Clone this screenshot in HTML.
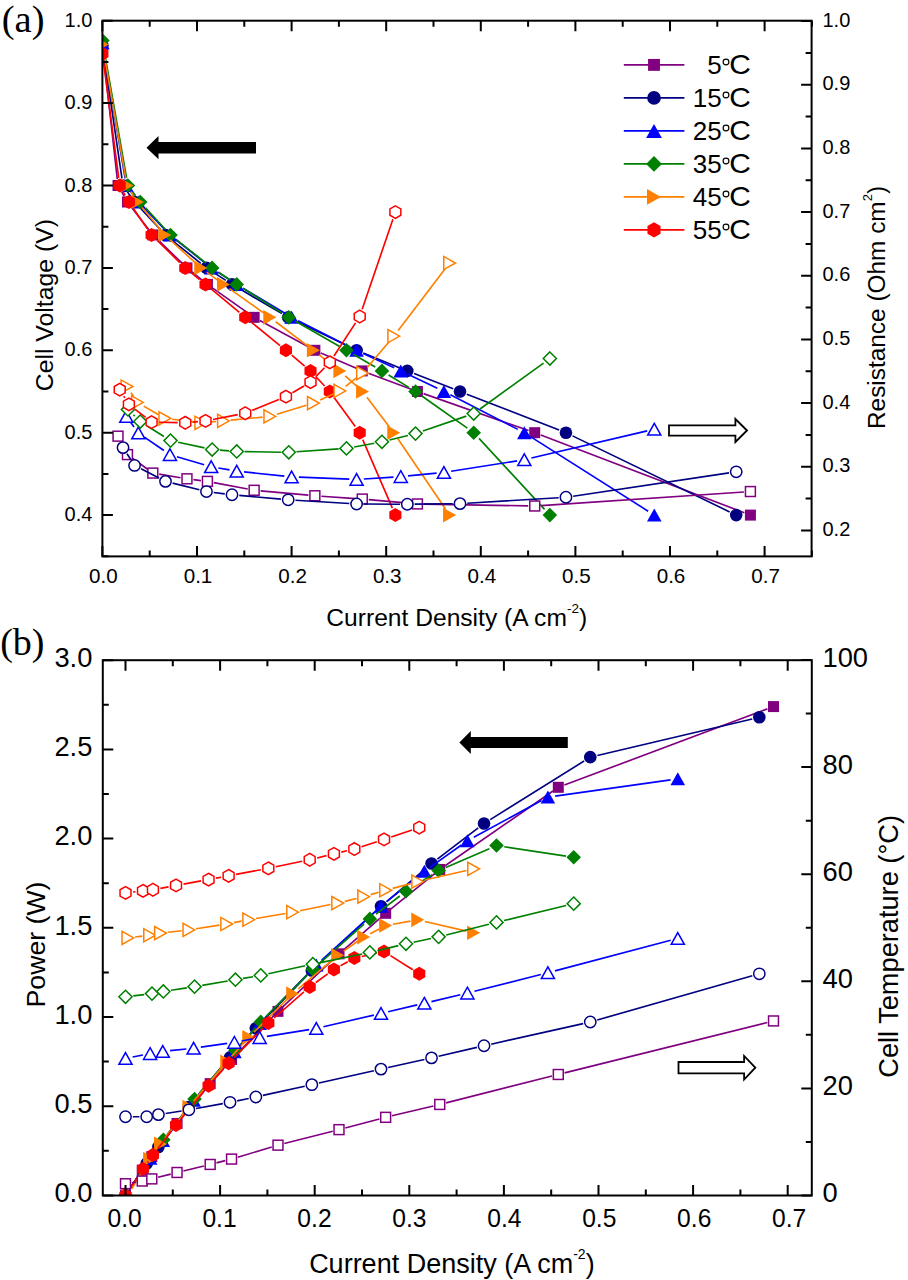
<!DOCTYPE html>
<html><head><meta charset="utf-8"><style>
html,body{margin:0;padding:0;background:#fff;}
svg{display:block;}
text{font-family:"Liberation Sans", sans-serif;fill:#000;}
</style></head><body>
<svg width="908" height="1280" viewBox="0 0 908 1280">
<rect width="908" height="1280" fill="#fff"/>
<clipPath id="ca"><rect x="102.4" y="20.7" width="709.2" height="535.6999999999999"/></clipPath>
<clipPath id="cb"><rect x="102.8" y="660.2" width="709.0" height="535.3"/></clipPath>
<g clip-path="url(#ca)">
<path d="M103.12,51.88L117.29,179.04M121.24,191.14L124.23,196.34M131.43,207.13L148.86,229.79M157.50,239.45L182.30,263.39M192.03,271.98L202.35,280.30M212.72,288.13L248.83,313.59M259.85,320.44L309.16,347.20M320.83,352.89L356.30,368.31M368.36,373.17L411.33,389.23M423.55,393.65L528.59,430.55M540.79,435.02L744.34,512.78" stroke="#800080" stroke-width="1.65" fill="none"/>
<rect x="96.90" y="39.92" width="11.00" height="11.00" fill="#800080"/>
<rect x="112.51" y="180.00" width="11.00" height="11.00" fill="#800080"/>
<rect x="121.97" y="196.48" width="11.00" height="11.00" fill="#800080"/>
<rect x="147.32" y="229.44" width="11.00" height="11.00" fill="#800080"/>
<rect x="181.47" y="262.40" width="11.00" height="11.00" fill="#800080"/>
<rect x="201.91" y="278.88" width="11.00" height="11.00" fill="#800080"/>
<rect x="248.64" y="311.84" width="11.00" height="11.00" fill="#800080"/>
<rect x="309.37" y="344.80" width="11.00" height="11.00" fill="#800080"/>
<rect x="356.77" y="365.40" width="11.00" height="11.00" fill="#800080"/>
<rect x="411.92" y="386.00" width="11.00" height="11.00" fill="#800080"/>
<rect x="529.22" y="427.20" width="11.00" height="11.00" fill="#800080"/>
<rect x="744.91" y="509.60" width="11.00" height="11.00" fill="#800080"/>
<path d="M103.46,52.64L121.96,178.28M127.21,191.48L130.38,196.00M139.56,207.30L160.50,229.62M171.19,239.52L200.77,263.32M212.59,271.86L225.87,280.42M238.30,288.07L281.90,313.65M294.77,320.51L350.01,347.13M363.35,353.05L400.53,368.15M414.09,373.56L453.19,388.84M466.79,394.15L559.14,430.05M572.51,435.88L729.65,511.92" stroke="#000080" stroke-width="1.65" fill="none"/>
<circle cx="102.40" cy="45.42" r="6.30" fill="#000080"/>
<circle cx="123.02" cy="185.50" r="6.30" fill="#000080"/>
<circle cx="134.56" cy="201.98" r="6.30" fill="#000080"/>
<circle cx="165.50" cy="234.94" r="6.30" fill="#000080"/>
<circle cx="206.46" cy="267.90" r="6.30" fill="#000080"/>
<circle cx="232.00" cy="284.38" r="6.30" fill="#000080"/>
<circle cx="288.19" cy="317.34" r="6.30" fill="#000080"/>
<circle cx="356.59" cy="350.30" r="6.30" fill="#000080"/>
<circle cx="407.30" cy="370.90" r="6.30" fill="#000080"/>
<circle cx="459.99" cy="391.50" r="6.30" fill="#000080"/>
<circle cx="565.94" cy="432.70" r="6.30" fill="#000080"/>
<circle cx="736.22" cy="515.10" r="6.30" fill="#000080"/>
<path d="M103.61,50.15L125.13,178.30M130.63,191.40L134.05,196.08M143.40,207.25L164.89,229.67M175.65,239.50L205.49,263.34M217.32,271.86L230.60,280.42M242.99,288.14L285.34,313.58M298.11,320.64L350.08,347.00M363.21,353.39L394.15,367.81M407.36,374.05L437.32,388.35M450.40,394.83L517.82,429.37M530.48,436.61L648.13,511.19" stroke="#0000FF" stroke-width="1.65" fill="none"/>
<polygon points="102.40,36.45 109.70,49.45 95.10,49.45" fill="#0000FF"/>
<polygon points="126.33,179.00 133.63,192.00 119.03,192.00" fill="#0000FF"/>
<polygon points="138.35,195.48 145.65,208.48 131.05,208.48" fill="#0000FF"/>
<polygon points="169.94,228.44 177.24,241.44 162.64,241.44" fill="#0000FF"/>
<polygon points="211.19,261.40 218.49,274.40 203.89,274.40" fill="#0000FF"/>
<polygon points="236.73,277.88 244.03,290.88 229.43,290.88" fill="#0000FF"/>
<polygon points="291.60,310.84 298.90,323.84 284.30,323.84" fill="#0000FF"/>
<polygon points="356.59,343.80 363.89,356.80 349.29,356.80" fill="#0000FF"/>
<polygon points="400.77,364.40 408.07,377.40 393.47,377.40" fill="#0000FF"/>
<polygon points="443.91,385.00 451.21,398.00 436.61,398.00" fill="#0000FF"/>
<polygon points="524.32,426.20 531.62,439.20 517.02,439.20" fill="#0000FF"/>
<polygon points="654.30,508.60 661.60,521.60 647.00,521.60" fill="#0000FF"/>
<path d="M103.75,48.16L126.59,177.82M132.61,191.75L135.58,195.73M145.52,207.72L165.24,229.20M176.63,239.78L206.02,263.06M218.62,272.24L230.25,280.04M243.32,288.55L282.17,313.17M295.54,321.21L339.69,346.43M353.21,354.22L375.20,366.98M388.59,374.98L408.88,387.42M421.89,396.01L467.34,428.19M479.00,438.43L544.56,509.37" stroke="#008000" stroke-width="1.65" fill="none"/>
<polygon points="102.40,33.18 109.70,40.48 102.40,47.78 95.10,40.48" fill="#008000"/>
<polygon points="127.94,178.20 135.24,185.50 127.94,192.80 120.64,185.50" fill="#008000"/>
<polygon points="140.24,194.68 147.54,201.98 140.24,209.28 132.94,201.98" fill="#008000"/>
<polygon points="170.51,227.64 177.81,234.94 170.51,242.24 163.21,234.94" fill="#008000"/>
<polygon points="212.14,260.60 219.44,267.90 212.14,275.20 204.84,267.90" fill="#008000"/>
<polygon points="236.73,277.08 244.03,284.38 236.73,291.68 229.43,284.38" fill="#008000"/>
<polygon points="288.76,310.04 296.06,317.34 288.76,324.64 281.46,317.34" fill="#008000"/>
<polygon points="346.47,343.00 353.77,350.30 346.47,357.60 339.17,350.30" fill="#008000"/>
<polygon points="381.94,363.60 389.24,370.90 381.94,378.20 374.64,370.90" fill="#008000"/>
<polygon points="415.53,384.20 422.83,391.50 415.53,398.80 408.23,391.50" fill="#008000"/>
<polygon points="473.71,425.40 481.01,432.70 473.71,440.00 466.41,432.70" fill="#008000"/>
<polygon points="549.86,507.80 557.16,515.10 549.86,522.40 542.56,515.10" fill="#008000"/>
<path d="M103.66,51.79L125.74,178.31M130.89,191.67L133.50,195.81M142.07,207.59L160.17,229.33M170.22,239.87L195.40,262.97M206.69,272.19L217.58,280.09M229.44,288.61L263.89,313.11M275.66,321.75L307.54,345.89M319.12,354.78L334.08,366.42M345.25,375.81L357.14,386.59M366.96,397.32L389.36,426.88M397.86,438.74L445.49,509.06" stroke="#FF8000" stroke-width="1.65" fill="none"/>
<polygon points="108.90,44.60 95.90,51.90 95.90,37.30" fill="#FF8000"/>
<polygon points="133.50,185.50 120.50,192.80 120.50,178.20" fill="#FF8000"/>
<polygon points="143.90,201.98 130.90,209.28 130.90,194.68" fill="#FF8000"/>
<polygon points="171.34,234.94 158.34,242.24 158.34,227.64" fill="#FF8000"/>
<polygon points="207.28,267.90 194.28,275.20 194.28,260.60" fill="#FF8000"/>
<polygon points="229.99,284.38 216.99,291.68 216.99,277.08" fill="#FF8000"/>
<polygon points="276.34,317.34 263.34,324.64 263.34,310.04" fill="#FF8000"/>
<polygon points="319.86,350.30 306.86,357.60 306.86,343.00" fill="#FF8000"/>
<polygon points="346.35,370.90 333.35,378.20 333.35,363.60" fill="#FF8000"/>
<polygon points="369.05,391.50 356.05,398.80 356.05,384.20" fill="#FF8000"/>
<polygon points="400.27,432.70 387.27,440.00 387.27,425.40" fill="#FF8000"/>
<polygon points="456.08,515.10 443.08,522.40 443.08,507.80" fill="#FF8000"/>
<path d="M103.39,61.20L118.72,177.96M123.41,192.14L125.19,195.34M133.20,208.24L147.28,228.68M157.02,240.26L179.84,262.58M191.16,272.70L199.62,279.58M211.36,289.23L239.40,312.49M251.15,322.12L280.02,345.52M291.75,355.18L304.69,366.02M315.72,376.45L324.62,385.95M334.28,397.65L355.25,426.55M362.73,439.67L392.36,508.13" stroke="#FF0000" stroke-width="1.65" fill="none"/>
<polygon points="102.40,46.66 108.46,50.16 108.46,57.16 102.40,60.66 96.34,57.16 96.34,50.16" fill="#FF0000"/>
<polygon points="119.71,178.50 125.77,182.00 125.77,189.00 119.71,192.50 113.65,189.00 113.65,182.00" fill="#FF0000"/>
<polygon points="128.89,194.98 134.95,198.48 134.95,205.48 128.89,208.98 122.83,205.48 122.83,198.48" fill="#FF0000"/>
<polygon points="151.59,227.94 157.65,231.44 157.65,238.44 151.59,241.94 145.53,238.44 145.53,231.44" fill="#FF0000"/>
<polygon points="185.27,260.90 191.33,264.40 191.33,271.40 185.27,274.90 179.21,271.40 179.21,264.40" fill="#FF0000"/>
<polygon points="205.51,277.38 211.58,280.88 211.58,287.88 205.51,291.38 199.45,287.88 199.45,280.88" fill="#FF0000"/>
<polygon points="245.25,310.34 251.31,313.84 251.31,320.84 245.25,324.34 239.18,320.84 239.18,313.84" fill="#FF0000"/>
<polygon points="285.92,343.30 291.99,346.80 291.99,353.80 285.92,357.30 279.86,353.80 279.86,346.80" fill="#FF0000"/>
<polygon points="310.52,363.90 316.58,367.40 316.58,374.40 310.52,377.90 304.46,374.40 304.46,367.40" fill="#FF0000"/>
<polygon points="329.82,384.50 335.88,388.00 335.88,395.00 329.82,398.50 323.76,395.00 323.76,388.00" fill="#FF0000"/>
<polygon points="359.71,425.70 365.77,429.20 365.77,436.20 359.71,439.70 353.65,436.20 353.65,429.20" fill="#FF0000"/>
<polygon points="395.38,508.10 401.44,511.60 401.44,518.60 395.38,522.10 389.31,518.60 389.31,511.60" fill="#FF0000"/>
</g>
<g clip-path="url(#ca)">
<path d="M120.97,441.95L124.50,448.84M132.72,458.45L147.57,469.26M159.23,474.16L180.56,477.74M193.42,479.62L200.96,480.56M213.79,482.58L247.75,489.06M260.61,490.86L308.40,495.17M321.36,496.20L355.78,498.61M368.74,499.63L410.94,503.39M423.92,504.07L528.22,505.89M541.21,505.56L743.92,491.98" stroke="#800080" stroke-width="1.65" fill="none"/>
<rect x="113.06" y="431.21" width="9.90" height="9.90" fill="#fff" stroke="#800080" stroke-width="1.5"/>
<rect x="122.52" y="449.67" width="9.90" height="9.90" fill="#fff" stroke="#800080" stroke-width="1.5"/>
<rect x="147.87" y="468.14" width="9.90" height="9.90" fill="#fff" stroke="#800080" stroke-width="1.5"/>
<rect x="182.02" y="473.87" width="9.90" height="9.90" fill="#fff" stroke="#800080" stroke-width="1.5"/>
<rect x="202.46" y="476.41" width="9.90" height="9.90" fill="#fff" stroke="#800080" stroke-width="1.5"/>
<rect x="249.19" y="485.32" width="9.90" height="9.90" fill="#fff" stroke="#800080" stroke-width="1.5"/>
<rect x="309.92" y="490.80" width="9.90" height="9.90" fill="#fff" stroke="#800080" stroke-width="1.5"/>
<rect x="357.32" y="494.11" width="9.90" height="9.90" fill="#fff" stroke="#800080" stroke-width="1.5"/>
<rect x="412.47" y="499.01" width="9.90" height="9.90" fill="#fff" stroke="#800080" stroke-width="1.5"/>
<rect x="529.77" y="501.05" width="9.90" height="9.90" fill="#fff" stroke="#800080" stroke-width="1.5"/>
<rect x="745.46" y="486.60" width="9.90" height="9.90" fill="#fff" stroke="#800080" stroke-width="1.5"/>
<path d="M126.99,453.75L130.60,459.32M141.06,468.79L159.01,478.02M172.58,483.12L199.38,489.79M213.70,492.45L224.76,493.83M239.27,495.39L280.92,499.16M295.48,500.26L349.30,503.52M363.89,504.01L400.00,504.23M414.60,504.19L452.69,503.73M467.27,503.20L558.65,497.71M573.16,496.20L729.00,472.89" stroke="#000080" stroke-width="1.65" fill="none"/>
<circle cx="123.02" cy="447.62" r="5.67" fill="#fff" stroke="#000080" stroke-width="1.5"/>
<circle cx="134.56" cy="465.45" r="5.67" fill="#fff" stroke="#000080" stroke-width="1.5"/>
<circle cx="165.50" cy="481.36" r="5.67" fill="#fff" stroke="#000080" stroke-width="1.5"/>
<circle cx="206.46" cy="491.55" r="5.67" fill="#fff" stroke="#000080" stroke-width="1.5"/>
<circle cx="232.00" cy="494.73" r="5.67" fill="#fff" stroke="#000080" stroke-width="1.5"/>
<circle cx="288.19" cy="499.82" r="5.67" fill="#fff" stroke="#000080" stroke-width="1.5"/>
<circle cx="356.59" cy="503.96" r="5.67" fill="#fff" stroke="#000080" stroke-width="1.5"/>
<circle cx="407.30" cy="504.28" r="5.67" fill="#fff" stroke="#000080" stroke-width="1.5"/>
<circle cx="459.99" cy="503.64" r="5.67" fill="#fff" stroke="#000080" stroke-width="1.5"/>
<circle cx="565.94" cy="497.28" r="5.67" fill="#fff" stroke="#000080" stroke-width="1.5"/>
<circle cx="736.22" cy="471.81" r="5.67" fill="#fff" stroke="#000080" stroke-width="1.5"/>
<path d="M130.62,422.34L134.06,427.07M144.37,437.11L163.92,450.50M176.95,456.68L204.18,464.67M218.38,467.97L229.54,469.92M243.99,471.93L284.34,476.15M298.89,477.19L349.30,479.17M363.87,478.98L393.48,477.06M408.04,475.89L436.64,473.15M451.12,471.31L517.11,460.86M531.42,458.05L647.19,430.83" stroke="#0000FF" stroke-width="1.65" fill="none"/>
<polygon points="126.33,410.58 132.90,422.28 119.76,422.28" fill="#fff" stroke="#0000FF" stroke-width="1.5"/>
<polygon points="138.35,427.13 144.92,438.83 131.78,438.83" fill="#fff" stroke="#0000FF" stroke-width="1.5"/>
<polygon points="169.94,448.77 176.51,460.47 163.37,460.47" fill="#fff" stroke="#0000FF" stroke-width="1.5"/>
<polygon points="211.19,460.87 217.76,472.57 204.62,472.57" fill="#fff" stroke="#0000FF" stroke-width="1.5"/>
<polygon points="236.73,465.33 243.30,477.03 230.16,477.03" fill="#fff" stroke="#0000FF" stroke-width="1.5"/>
<polygon points="291.60,471.06 298.17,482.76 285.03,482.76" fill="#fff" stroke="#0000FF" stroke-width="1.5"/>
<polygon points="356.59,473.60 363.16,485.30 350.02,485.30" fill="#fff" stroke="#0000FF" stroke-width="1.5"/>
<polygon points="400.77,470.74 407.34,482.44 394.20,482.44" fill="#fff" stroke="#0000FF" stroke-width="1.5"/>
<polygon points="443.91,466.60 450.48,478.30 437.34,478.30" fill="#fff" stroke="#0000FF" stroke-width="1.5"/>
<polygon points="524.32,453.87 530.89,465.57 517.75,465.57" fill="#fff" stroke="#0000FF" stroke-width="1.5"/>
<polygon points="654.30,423.31 660.87,435.01 647.73,435.01" fill="#fff" stroke="#0000FF" stroke-width="1.5"/>
<path d="M133.50,414.90L134.68,416.05M146.84,425.68L163.92,436.46M178.14,442.25L204.51,447.90M219.91,450.14L228.96,450.84M244.53,451.58L280.96,452.20M296.54,451.80L338.69,448.92M354.14,446.95L374.28,443.20M389.52,439.93L407.95,435.46M422.90,431.08L466.33,416.11M480.03,408.99L543.54,363.07" stroke="#008000" stroke-width="1.65" fill="none"/>
<polygon points="127.94,402.86 134.51,409.43 127.94,416.00 121.37,409.43" fill="#fff" stroke="#008000" stroke-width="1.5"/>
<polygon points="140.24,414.95 146.81,421.52 140.24,428.09 133.67,421.52" fill="#fff" stroke="#008000" stroke-width="1.5"/>
<polygon points="170.51,434.05 177.08,440.62 170.51,447.19 163.94,440.62" fill="#fff" stroke="#008000" stroke-width="1.5"/>
<polygon points="212.14,442.96 218.71,449.53 212.14,456.10 205.57,449.53" fill="#fff" stroke="#008000" stroke-width="1.5"/>
<polygon points="236.73,444.87 243.30,451.44 236.73,458.01 230.16,451.44" fill="#fff" stroke="#008000" stroke-width="1.5"/>
<polygon points="288.76,445.76 295.33,452.33 288.76,458.90 282.19,452.33" fill="#fff" stroke="#008000" stroke-width="1.5"/>
<polygon points="346.47,441.82 353.04,448.39 346.47,454.96 339.90,448.39" fill="#fff" stroke="#008000" stroke-width="1.5"/>
<polygon points="381.94,435.20 388.51,441.77 381.94,448.34 375.37,441.77" fill="#fff" stroke="#008000" stroke-width="1.5"/>
<polygon points="415.53,427.05 422.10,433.62 415.53,440.19 408.96,433.62" fill="#fff" stroke="#008000" stroke-width="1.5"/>
<polygon points="473.71,406.99 480.28,413.56 473.71,420.13 467.14,413.56" fill="#fff" stroke="#008000" stroke-width="1.5"/>
<polygon points="549.86,351.93 556.43,358.50 549.86,365.07 543.29,358.50" fill="#fff" stroke="#008000" stroke-width="1.5"/>
<path d="M130.99,392.62L133.41,396.31M143.72,406.09L158.52,414.68M172.08,419.24L193.54,421.90M208.06,422.18L216.21,421.50M230.75,420.19L262.58,417.13M276.82,414.28L306.38,405.20M320.00,400.03L333.21,394.00M345.59,386.46L356.81,377.65M367.26,367.57L389.05,341.79M398.19,330.41L445.16,268.81" stroke="#FF8000" stroke-width="1.65" fill="none"/>
<polygon points="132.85,386.51 121.15,393.08 121.15,379.94" fill="#fff" stroke="#FF8000" stroke-width="1.5"/>
<polygon points="143.25,402.42 131.55,408.99 131.55,395.85" fill="#fff" stroke="#FF8000" stroke-width="1.5"/>
<polygon points="170.69,418.34 158.99,424.91 158.99,411.77" fill="#fff" stroke="#FF8000" stroke-width="1.5"/>
<polygon points="206.63,422.79 194.93,429.36 194.93,416.22" fill="#fff" stroke="#FF8000" stroke-width="1.5"/>
<polygon points="229.34,420.88 217.64,427.45 217.64,414.31" fill="#fff" stroke="#FF8000" stroke-width="1.5"/>
<polygon points="275.69,416.43 263.99,423.00 263.99,409.86" fill="#fff" stroke="#FF8000" stroke-width="1.5"/>
<polygon points="319.21,403.06 307.51,409.63 307.51,396.49" fill="#fff" stroke="#FF8000" stroke-width="1.5"/>
<polygon points="345.70,390.96 334.00,397.53 334.00,384.39" fill="#fff" stroke="#FF8000" stroke-width="1.5"/>
<polygon points="368.40,373.14 356.70,379.71 356.70,366.57" fill="#fff" stroke="#FF8000" stroke-width="1.5"/>
<polygon points="399.62,336.22 387.92,342.79 387.92,329.65" fill="#fff" stroke="#FF8000" stroke-width="1.5"/>
<polygon points="455.43,263.01 443.73,269.58 443.73,256.44" fill="#fff" stroke="#FF8000" stroke-width="1.5"/>
<path d="M123.75,396.13L124.85,397.89M134.87,409.03L145.61,417.46M159.19,422.30L177.67,422.65M192.84,422.08L197.95,421.60M212.98,419.45L237.78,414.68M252.29,410.38L278.88,399.56M292.45,392.81L303.99,385.94M315.83,376.62L324.50,367.75M333.97,355.95L355.56,322.85M362.17,309.29L392.92,219.27" stroke="#FF0000" stroke-width="1.65" fill="none"/>
<polygon points="119.71,383.39 125.17,386.54 125.17,392.84 119.71,395.99 114.26,392.84 114.26,386.54" fill="#fff" stroke="#FF0000" stroke-width="1.5"/>
<polygon points="128.89,398.03 134.34,401.18 134.34,407.48 128.89,410.63 123.43,407.48 123.43,401.18" fill="#fff" stroke="#FF0000" stroke-width="1.5"/>
<polygon points="151.59,415.86 157.05,419.01 157.05,425.31 151.59,428.46 146.14,425.31 146.14,419.01" fill="#fff" stroke="#FF0000" stroke-width="1.5"/>
<polygon points="185.27,416.49 190.73,419.64 190.73,425.94 185.27,429.09 179.81,425.94 179.81,419.64" fill="#fff" stroke="#FF0000" stroke-width="1.5"/>
<polygon points="205.51,414.58 210.97,417.73 210.97,424.03 205.51,427.18 200.06,424.03 200.06,417.73" fill="#fff" stroke="#FF0000" stroke-width="1.5"/>
<polygon points="245.25,406.95 250.70,410.10 250.70,416.40 245.25,419.55 239.79,416.40 239.79,410.10" fill="#fff" stroke="#FF0000" stroke-width="1.5"/>
<polygon points="285.92,390.39 291.38,393.54 291.38,399.84 285.92,402.99 280.47,399.84 280.47,393.54" fill="#fff" stroke="#FF0000" stroke-width="1.5"/>
<polygon points="310.52,375.75 315.98,378.90 315.98,385.20 310.52,388.35 305.06,385.20 305.06,378.90" fill="#fff" stroke="#FF0000" stroke-width="1.5"/>
<polygon points="329.82,356.02 335.27,359.17 335.27,365.47 329.82,368.62 324.36,365.47 324.36,359.17" fill="#fff" stroke="#FF0000" stroke-width="1.5"/>
<polygon points="359.71,310.18 365.17,313.33 365.17,319.63 359.71,322.78 354.26,319.63 354.26,313.33" fill="#fff" stroke="#FF0000" stroke-width="1.5"/>
<polygon points="395.38,205.78 400.83,208.93 400.83,215.23 395.38,218.38 389.92,215.23 389.92,208.93" fill="#fff" stroke="#FF0000" stroke-width="1.5"/>
</g>
<path d="M102.40,556.4V545.9M197.00,556.4V545.9M291.60,556.4V545.9M386.20,556.4V545.9M480.80,556.4V545.9M575.40,556.4V545.9M670.00,556.4V545.9M764.60,556.4V545.9M149.70,556.4V550.4M244.30,556.4V550.4M338.90,556.4V550.4M433.50,556.4V550.4M528.10,556.4V550.4M622.70,556.4V550.4M717.30,556.4V550.4M811.90,556.4V550.4M102.40,20.7V31.2M197.00,20.7V31.2M291.60,20.7V31.2M386.20,20.7V31.2M480.80,20.7V31.2M575.40,20.7V31.2M670.00,20.7V31.2M764.60,20.7V31.2M149.70,20.7V26.7M244.30,20.7V26.7M338.90,20.7V26.7M433.50,20.7V26.7M528.10,20.7V26.7M622.70,20.7V26.7M717.30,20.7V26.7M811.90,20.7V26.7M102.4,515.10H112.9M102.4,432.70H112.9M102.4,350.30H112.9M102.4,267.90H112.9M102.4,185.50H112.9M102.4,103.10H112.9M102.4,20.70H112.9M102.4,556.30H108.4M102.4,473.90H108.4M102.4,391.50H108.4M102.4,309.10H108.4M102.4,226.70H108.4M102.4,144.30H108.4M102.4,61.90H108.4M811.6,530.38H801.1M811.6,466.72H801.1M811.6,403.06H801.1M811.6,339.40H801.1M811.6,275.74H801.1M811.6,212.08H801.1M811.6,148.42H801.1M811.6,84.76H801.1M811.6,21.10H801.1M811.6,498.55H805.6M811.6,434.89H805.6M811.6,371.23H805.6M811.6,307.57H805.6M811.6,243.91H805.6M811.6,180.25H805.6M811.6,116.59H805.6M811.6,52.93H805.6" stroke="#000" stroke-width="2" fill="none"/>
<rect x="102.4" y="20.7" width="709.20" height="535.70" stroke="#000" stroke-width="2" fill="none"/>
<g clip-path="url(#cb)">
<path d="M129.09,1189.98L138.65,1175.56M146.01,1164.84L148.03,1162.01M155.73,1151.54L173.13,1128.63M181.21,1118.45L206.01,1088.63M214.47,1078.76L227.25,1064.28M236.06,1054.74L273.48,1016.02M282.72,1006.89L334.28,958.27M343.92,949.55L380.74,917.57M390.70,909.21L434.71,873.54M445.10,865.74L552.95,791.01M564.38,785.03L767.42,708.87" stroke="#800080" stroke-width="1.65" fill="none"/>
<rect x="120.00" y="1189.90" width="11.00" height="11.00" fill="#800080"/>
<rect x="136.74" y="1164.64" width="11.00" height="11.00" fill="#800080"/>
<rect x="146.30" y="1151.22" width="11.00" height="11.00" fill="#800080"/>
<rect x="171.56" y="1117.95" width="11.00" height="11.00" fill="#800080"/>
<rect x="204.67" y="1078.13" width="11.00" height="11.00" fill="#800080"/>
<rect x="226.05" y="1053.91" width="11.00" height="11.00" fill="#800080"/>
<rect x="272.50" y="1005.85" width="11.00" height="11.00" fill="#800080"/>
<rect x="333.51" y="948.31" width="11.00" height="11.00" fill="#800080"/>
<rect x="380.15" y="907.81" width="11.00" height="11.00" fill="#800080"/>
<rect x="434.26" y="863.95" width="11.00" height="11.00" fill="#800080"/>
<rect x="552.80" y="781.81" width="11.00" height="11.00" fill="#800080"/>
<rect x="768.01" y="701.08" width="11.00" height="11.00" fill="#800080"/>
<path d="M129.53,1189.32L142.66,1169.52M150.93,1157.49L154.18,1152.92M162.84,1141.17L184.46,1112.76M193.55,1101.33L225.37,1063.02M234.87,1051.94L251.02,1033.70M260.94,1022.99L306.78,975.71M317.21,965.51L375.66,911.25M386.59,901.57L425.96,868.27M437.34,859.13L478.23,827.95M490.23,819.66L584.08,761.03M597.37,755.48L752.21,718.96" stroke="#000080" stroke-width="1.65" fill="none"/>
<circle cx="125.50" cy="1195.40" r="6.30" fill="#000080"/>
<circle cx="146.69" cy="1163.43" r="6.30" fill="#000080"/>
<circle cx="158.42" cy="1146.98" r="6.30" fill="#000080"/>
<circle cx="188.88" cy="1106.95" r="6.30" fill="#000080"/>
<circle cx="230.03" cy="1057.41" r="6.30" fill="#000080"/>
<circle cx="255.86" cy="1028.23" r="6.30" fill="#000080"/>
<circle cx="311.86" cy="970.47" r="6.30" fill="#000080"/>
<circle cx="381.01" cy="906.28" r="6.30" fill="#000080"/>
<circle cx="431.53" cy="863.55" r="6.30" fill="#000080"/>
<circle cx="484.03" cy="823.53" r="6.30" fill="#000080"/>
<circle cx="590.27" cy="757.16" r="6.30" fill="#000080"/>
<circle cx="759.32" cy="717.29" r="6.30" fill="#000080"/>
<path d="M129.53,1189.32L146.06,1164.38M154.34,1152.36L158.52,1146.51M167.21,1134.78L189.17,1106.14M198.30,1094.75L229.70,1057.26M239.25,1046.22L254.78,1028.82M264.73,1018.15L311.22,970.34M321.71,960.20L375.61,911.20M386.70,901.70L418.66,875.93M430.29,867.12L461.43,845.02M473.80,837.31L541.47,800.60M555.12,796.10L670.55,779.82" stroke="#0000FF" stroke-width="1.65" fill="none"/>
<polygon points="125.50,1188.90 132.80,1201.90 118.20,1201.90" fill="#0000FF"/>
<polygon points="150.10,1151.79 157.40,1164.79 142.80,1164.79" fill="#0000FF"/>
<polygon points="162.77,1134.07 170.07,1147.07 155.47,1147.07" fill="#0000FF"/>
<polygon points="193.61,1093.85 200.91,1106.85 186.31,1106.85" fill="#0000FF"/>
<polygon points="234.38,1045.16 241.68,1058.16 227.08,1058.16" fill="#0000FF"/>
<polygon points="259.64,1016.88 266.94,1029.88 252.34,1029.88" fill="#0000FF"/>
<polygon points="316.31,958.61 323.61,971.61 309.01,971.61" fill="#0000FF"/>
<polygon points="381.01,899.78 388.31,912.78 373.71,912.78" fill="#0000FF"/>
<polygon points="424.34,864.85 431.64,877.85 417.04,877.85" fill="#0000FF"/>
<polygon points="467.38,834.29 474.68,847.29 460.08,847.29" fill="#0000FF"/>
<polygon points="547.89,790.62 555.19,803.62 540.59,803.62" fill="#0000FF"/>
<polygon points="677.77,772.30 685.07,785.30 670.47,785.30" fill="#0000FF"/>
<path d="M129.81,1188.90L147.68,1161.94M156.56,1149.12L158.77,1146.06M168.09,1133.55L189.81,1105.22M199.57,1093.05L230.41,1056.27M240.62,1044.47L255.58,1027.74M266.26,1016.38L307.32,974.88M318.65,964.17L364.01,924.08M376.05,914.17L399.80,895.99M412.58,887.08L432.03,874.79M445.78,867.52L489.36,848.66M504.23,846.73L566.00,856.12" stroke="#008000" stroke-width="1.65" fill="none"/>
<polygon points="125.50,1188.10 132.80,1195.40 125.50,1202.70 118.20,1195.40" fill="#008000"/>
<polygon points="151.99,1148.14 159.29,1155.44 151.99,1162.74 144.69,1155.44" fill="#008000"/>
<polygon points="163.34,1132.44 170.64,1139.74 163.34,1147.04 156.04,1139.74" fill="#008000"/>
<polygon points="194.56,1091.73 201.86,1099.03 194.56,1106.33 187.26,1099.03" fill="#008000"/>
<polygon points="235.43,1042.99 242.73,1050.29 235.43,1057.59 228.13,1050.29" fill="#008000"/>
<polygon points="260.78,1014.62 268.08,1021.92 260.78,1029.22 253.48,1021.92" fill="#008000"/>
<polygon points="312.81,962.03 320.11,969.33 312.81,976.63 305.51,969.33" fill="#008000"/>
<polygon points="369.85,911.62 377.15,918.92 369.85,926.22 362.55,918.92" fill="#008000"/>
<polygon points="405.99,883.95 413.29,891.25 405.99,898.55 398.69,891.25" fill="#008000"/>
<polygon points="438.63,863.32 445.93,870.62 438.63,877.92 431.33,870.62" fill="#008000"/>
<polygon points="496.52,838.26 503.82,845.56 496.52,852.86 489.22,845.56" fill="#008000"/>
<polygon points="573.71,850.00 581.01,857.30 573.71,864.60 566.41,857.30" fill="#008000"/>
<path d="M131.61,1189.13L145.88,1165.27M153.89,1153.08L156.23,1149.84M164.95,1138.12L184.44,1112.74M193.57,1101.35L222.03,1067.37M231.61,1056.36L243.88,1042.75M253.94,1032.18L287.48,998.80M298.22,988.92L332.13,960.04M343.67,951.12L357.72,941.29M370.16,933.71L379.19,928.97M392.84,924.29L410.53,921.14M424.83,921.51L466.52,931.15" stroke="#FF8000" stroke-width="1.65" fill="none"/>
<polygon points="134.37,1195.40 121.36,1202.70 121.36,1188.10" fill="#FF8000"/>
<polygon points="156.12,1159.01 143.12,1166.31 143.12,1151.71" fill="#FF8000"/>
<polygon points="167.00,1143.91 154.00,1151.21 154.00,1136.61" fill="#FF8000"/>
<polygon points="195.38,1106.95 182.38,1114.25 182.38,1099.65" fill="#FF8000"/>
<polygon points="233.22,1061.78 220.22,1069.08 220.22,1054.48" fill="#FF8000"/>
<polygon points="255.26,1037.33 242.26,1044.63 242.26,1030.03" fill="#FF8000"/>
<polygon points="299.16,993.65 286.16,1000.95 286.16,986.35" fill="#FF8000"/>
<polygon points="344.19,955.31 331.19,962.61 331.19,948.01" fill="#FF8000"/>
<polygon points="370.20,937.10 357.20,944.40 357.20,929.80" fill="#FF8000"/>
<polygon points="392.15,925.57 379.15,932.87 379.15,918.27" fill="#FF8000"/>
<polygon points="424.22,919.86 411.22,927.16 411.22,912.56" fill="#FF8000"/>
<polygon points="480.13,932.80 467.13,940.10 467.13,925.50" fill="#FF8000"/>
<path d="M129.70,1189.07L138.80,1175.33M147.41,1162.81L148.53,1161.24M157.55,1149.01L171.40,1130.94M180.87,1119.06L203.70,1091.60M213.61,1080.07L223.57,1068.85M233.96,1057.77L263.00,1028.40M274.08,1018.00L303.95,991.98M315.84,982.53L327.75,973.88M340.55,965.72L347.70,961.74M361.77,956.44L376.61,953.22M390.47,955.67L412.81,969.77" stroke="#FF0000" stroke-width="1.65" fill="none"/>
<polygon points="125.50,1188.40 131.56,1191.90 131.56,1198.90 125.50,1202.40 119.44,1198.90 119.44,1191.90" fill="#FF0000"/>
<polygon points="143.00,1162.00 149.06,1165.50 149.06,1172.50 143.00,1176.00 136.94,1172.50 136.94,1165.50" fill="#FF0000"/>
<polygon points="152.93,1148.05 159.00,1151.55 159.00,1158.55 152.93,1162.05 146.87,1158.55 146.87,1151.55" fill="#FF0000"/>
<polygon points="176.02,1117.90 182.08,1121.40 182.08,1128.40 176.02,1131.90 169.95,1128.40 169.95,1121.40" fill="#FF0000"/>
<polygon points="208.56,1078.76 214.62,1082.26 214.62,1089.26 208.56,1092.76 202.50,1089.26 202.50,1082.26" fill="#FF0000"/>
<polygon points="228.61,1056.17 234.68,1059.67 234.68,1066.67 228.61,1070.17 222.55,1066.67 222.55,1059.67" fill="#FF0000"/>
<polygon points="268.35,1015.99 274.41,1019.49 274.41,1026.49 268.35,1029.99 262.28,1026.49 262.28,1019.49" fill="#FF0000"/>
<polygon points="309.69,979.99 315.75,983.49 315.75,990.49 309.69,993.99 303.62,990.49 303.62,983.49" fill="#FF0000"/>
<polygon points="333.90,962.42 339.97,965.92 339.97,972.92 333.90,976.42 327.84,972.92 327.84,965.92" fill="#FF0000"/>
<polygon points="354.34,951.05 360.40,954.55 360.40,961.55 354.34,965.05 348.28,961.55 348.28,954.55" fill="#FF0000"/>
<polygon points="384.04,944.62 390.10,948.12 390.10,955.12 384.04,958.62 377.98,955.12 377.98,948.12" fill="#FF0000"/>
<polygon points="419.23,966.83 425.30,970.33 425.30,977.33 419.23,980.83 413.17,977.33 413.17,970.33" fill="#FF0000"/>
</g>
<g clip-path="url(#cb)">
<path d="M131.92,1182.69L135.83,1182.07M158.10,1177.30L170.76,1174.08M183.37,1170.94L203.85,1165.97M216.47,1162.86L225.24,1160.67M237.77,1157.22L271.77,1147.03M284.29,1143.56L332.71,1131.24M345.30,1127.97L379.37,1118.98M391.97,1115.81L433.44,1105.97M446.06,1102.87L551.99,1076.07M564.60,1072.91L767.20,1022.50" stroke="#800080" stroke-width="1.65" fill="none"/>
<rect x="120.55" y="1178.77" width="9.90" height="9.90" fill="#fff" stroke="#800080" stroke-width="1.5"/>
<rect x="137.29" y="1176.09" width="9.90" height="9.90" fill="#fff" stroke="#800080" stroke-width="1.5"/>
<rect x="146.85" y="1173.95" width="9.90" height="9.90" fill="#fff" stroke="#800080" stroke-width="1.5"/>
<rect x="172.11" y="1167.52" width="9.90" height="9.90" fill="#fff" stroke="#800080" stroke-width="1.5"/>
<rect x="205.22" y="1159.49" width="9.90" height="9.90" fill="#fff" stroke="#800080" stroke-width="1.5"/>
<rect x="226.60" y="1154.14" width="9.90" height="9.90" fill="#fff" stroke="#800080" stroke-width="1.5"/>
<rect x="273.05" y="1140.21" width="9.90" height="9.90" fill="#fff" stroke="#800080" stroke-width="1.5"/>
<rect x="334.06" y="1124.68" width="9.90" height="9.90" fill="#fff" stroke="#800080" stroke-width="1.5"/>
<rect x="380.70" y="1112.37" width="9.90" height="9.90" fill="#fff" stroke="#800080" stroke-width="1.5"/>
<rect x="434.81" y="1099.51" width="9.90" height="9.90" fill="#fff" stroke="#800080" stroke-width="1.5"/>
<rect x="553.35" y="1069.53" width="9.90" height="9.90" fill="#fff" stroke="#800080" stroke-width="1.5"/>
<rect x="768.56" y="1015.98" width="9.90" height="9.90" fill="#fff" stroke="#800080" stroke-width="1.5"/>
<path d="M132.80,1116.78L139.39,1116.78M165.63,1113.50L181.67,1110.96M196.06,1108.51L222.85,1103.63M237.18,1100.84L248.71,1098.45M262.99,1095.40L304.73,1086.22M318.98,1083.05L373.89,1070.72M388.14,1067.54L424.41,1059.46M438.64,1056.24L476.92,1047.41M491.16,1044.18L583.15,1023.59M597.29,1020.00L752.30,975.80" stroke="#000080" stroke-width="1.65" fill="none"/>
<circle cx="125.50" cy="1116.78" r="5.67" fill="#fff" stroke="#000080" stroke-width="1.5"/>
<circle cx="146.69" cy="1116.78" r="5.67" fill="#fff" stroke="#000080" stroke-width="1.5"/>
<circle cx="158.42" cy="1114.64" r="5.67" fill="#fff" stroke="#000080" stroke-width="1.5"/>
<circle cx="188.88" cy="1109.82" r="5.67" fill="#fff" stroke="#000080" stroke-width="1.5"/>
<circle cx="230.03" cy="1102.32" r="5.67" fill="#fff" stroke="#000080" stroke-width="1.5"/>
<circle cx="255.86" cy="1096.97" r="5.67" fill="#fff" stroke="#000080" stroke-width="1.5"/>
<circle cx="311.86" cy="1084.65" r="5.67" fill="#fff" stroke="#000080" stroke-width="1.5"/>
<circle cx="381.01" cy="1069.12" r="5.67" fill="#fff" stroke="#000080" stroke-width="1.5"/>
<circle cx="431.53" cy="1057.88" r="5.67" fill="#fff" stroke="#000080" stroke-width="1.5"/>
<circle cx="484.03" cy="1045.77" r="5.67" fill="#fff" stroke="#000080" stroke-width="1.5"/>
<circle cx="590.27" cy="1022.00" r="5.67" fill="#fff" stroke="#000080" stroke-width="1.5"/>
<circle cx="759.32" cy="973.80" r="5.67" fill="#fff" stroke="#000080" stroke-width="1.5"/>
<path d="M132.66,1057.01L142.93,1055.00M170.03,1050.69L186.35,1048.99M200.84,1047.19L227.16,1043.39M241.56,1040.98L252.47,1038.90M266.85,1036.37L309.10,1029.58M323.42,1026.78L373.90,1015.08M388.12,1011.76L417.23,1004.92M431.45,1001.58L460.28,994.76M474.46,991.29L540.81,974.52M554.95,970.87L670.72,940.32" stroke="#0000FF" stroke-width="1.65" fill="none"/>
<polygon points="125.50,1052.56 132.07,1064.26 118.93,1064.26" fill="#fff" stroke="#0000FF" stroke-width="1.5"/>
<polygon points="150.10,1047.74 156.67,1059.44 143.53,1059.44" fill="#fff" stroke="#0000FF" stroke-width="1.5"/>
<polygon points="162.77,1045.60 169.34,1057.30 156.20,1057.30" fill="#fff" stroke="#0000FF" stroke-width="1.5"/>
<polygon points="193.61,1042.39 200.18,1054.09 187.04,1054.09" fill="#fff" stroke="#0000FF" stroke-width="1.5"/>
<polygon points="234.38,1036.50 240.95,1048.20 227.81,1048.20" fill="#fff" stroke="#0000FF" stroke-width="1.5"/>
<polygon points="259.64,1031.68 266.21,1043.38 253.07,1043.38" fill="#fff" stroke="#0000FF" stroke-width="1.5"/>
<polygon points="316.31,1022.57 322.88,1034.27 309.74,1034.27" fill="#fff" stroke="#0000FF" stroke-width="1.5"/>
<polygon points="381.01,1007.58 387.58,1019.28 374.44,1019.28" fill="#fff" stroke="#0000FF" stroke-width="1.5"/>
<polygon points="424.34,997.41 430.91,1009.11 417.77,1009.11" fill="#fff" stroke="#0000FF" stroke-width="1.5"/>
<polygon points="467.38,987.23 473.95,998.93 460.81,998.93" fill="#fff" stroke="#0000FF" stroke-width="1.5"/>
<polygon points="547.89,966.88 554.46,978.58 541.32,978.58" fill="#fff" stroke="#0000FF" stroke-width="1.5"/>
<polygon points="677.77,932.61 684.34,944.31 671.20,944.31" fill="#fff" stroke="#0000FF" stroke-width="1.5"/>
<path d="M133.24,995.89L144.24,994.56M171.05,990.28L186.85,987.85M202.25,985.35L227.74,981.00M243.12,978.39L253.09,976.71M268.40,973.76L305.18,965.81M320.45,962.59L362.21,953.96M377.44,950.58L398.40,945.61M413.62,942.19L431.00,938.48M446.19,934.96L488.95,924.28M504.10,920.55L566.14,905.49" stroke="#008000" stroke-width="1.65" fill="none"/>
<polygon points="125.50,990.26 132.07,996.83 125.50,1003.40 118.93,996.83" fill="#fff" stroke="#008000" stroke-width="1.5"/>
<polygon points="151.99,987.05 158.56,993.62 151.99,1000.19 145.42,993.62" fill="#fff" stroke="#008000" stroke-width="1.5"/>
<polygon points="163.34,984.90 169.91,991.47 163.34,998.04 156.77,991.47" fill="#fff" stroke="#008000" stroke-width="1.5"/>
<polygon points="194.56,980.08 201.13,986.65 194.56,993.23 187.99,986.65" fill="#fff" stroke="#008000" stroke-width="1.5"/>
<polygon points="235.43,973.12 242.00,979.69 235.43,986.26 228.86,979.69" fill="#fff" stroke="#008000" stroke-width="1.5"/>
<polygon points="260.78,968.84 267.35,975.41 260.78,981.98 254.21,975.41" fill="#fff" stroke="#008000" stroke-width="1.5"/>
<polygon points="312.81,957.59 319.38,964.16 312.81,970.73 306.24,964.16" fill="#fff" stroke="#008000" stroke-width="1.5"/>
<polygon points="369.85,945.81 376.42,952.38 369.85,958.95 363.28,952.38" fill="#fff" stroke="#008000" stroke-width="1.5"/>
<polygon points="405.99,937.24 412.56,943.81 405.99,950.38 399.42,943.81" fill="#fff" stroke="#008000" stroke-width="1.5"/>
<polygon points="438.63,930.28 445.20,936.85 438.63,943.42 432.06,936.85" fill="#fff" stroke="#008000" stroke-width="1.5"/>
<polygon points="496.52,915.82 503.09,922.39 496.52,928.97 489.95,922.39" fill="#fff" stroke="#008000" stroke-width="1.5"/>
<polygon points="573.71,897.08 580.28,903.65 573.71,910.22 567.14,903.65" fill="#fff" stroke="#008000" stroke-width="1.5"/>
<path d="M135.11,937.03L142.38,936.14M167.76,932.28L181.63,930.71M196.10,928.77L219.51,925.12M233.89,922.61L241.60,921.11M255.96,918.49L285.46,913.45M299.81,910.77L330.53,904.56M344.77,901.37L356.62,898.44M370.71,894.64L378.64,892.32M392.70,888.38L410.67,883.58M424.83,880.06L466.51,870.48" stroke="#FF8000" stroke-width="1.65" fill="none"/>
<polygon points="133.72,937.92 122.02,944.49 122.02,931.35" fill="#fff" stroke="#FF8000" stroke-width="1.5"/>
<polygon points="155.47,935.25 143.77,941.82 143.77,928.68" fill="#fff" stroke="#FF8000" stroke-width="1.5"/>
<polygon points="166.35,933.11 154.65,939.68 154.65,926.53" fill="#fff" stroke="#FF8000" stroke-width="1.5"/>
<polygon points="194.73,929.89 183.03,936.46 183.03,923.32" fill="#fff" stroke="#FF8000" stroke-width="1.5"/>
<polygon points="232.57,924.00 220.87,930.57 220.87,917.43" fill="#fff" stroke="#FF8000" stroke-width="1.5"/>
<polygon points="254.61,919.72 242.91,926.29 242.91,913.15" fill="#fff" stroke="#FF8000" stroke-width="1.5"/>
<polygon points="298.51,912.22 286.81,918.79 286.81,905.65" fill="#fff" stroke="#FF8000" stroke-width="1.5"/>
<polygon points="343.54,903.12 331.84,909.69 331.84,896.55" fill="#fff" stroke="#FF8000" stroke-width="1.5"/>
<polygon points="369.55,896.69 357.85,903.26 357.85,890.12" fill="#fff" stroke="#FF8000" stroke-width="1.5"/>
<polygon points="391.50,890.26 379.80,896.84 379.80,883.69" fill="#fff" stroke="#FF8000" stroke-width="1.5"/>
<polygon points="423.57,881.70 411.87,888.27 411.87,875.13" fill="#fff" stroke="#FF8000" stroke-width="1.5"/>
<polygon points="479.48,868.85 467.78,875.42 467.78,862.27" fill="#fff" stroke="#FF8000" stroke-width="1.5"/>
<path d="M133.04,892.02L135.46,891.72M160.41,888.34L168.54,886.83M183.49,884.09L201.08,880.91M216.03,878.16L221.14,877.20M236.08,874.40L260.88,869.72M275.79,866.77L302.24,861.28M317.07,857.95L326.52,855.65M341.30,852.11L346.94,850.78M361.57,846.69L376.81,841.74M391.25,836.98L412.03,830.02" stroke="#FF0000" stroke-width="1.65" fill="none"/>
<polygon points="125.50,886.64 130.96,889.79 130.96,896.09 125.50,899.24 120.04,896.09 120.04,889.79" fill="#fff" stroke="#FF0000" stroke-width="1.5"/>
<polygon points="143.00,884.50 148.46,887.65 148.46,893.95 143.00,897.10 137.55,893.95 137.55,887.65" fill="#fff" stroke="#FF0000" stroke-width="1.5"/>
<polygon points="152.93,883.43 158.39,886.58 158.39,892.88 152.93,896.03 147.48,892.88 147.48,886.58" fill="#fff" stroke="#FF0000" stroke-width="1.5"/>
<polygon points="176.02,879.15 181.47,882.30 181.47,888.60 176.02,891.75 170.56,888.60 170.56,882.30" fill="#fff" stroke="#FF0000" stroke-width="1.5"/>
<polygon points="208.56,873.25 214.01,876.40 214.01,882.70 208.56,885.85 203.10,882.70 203.10,876.40" fill="#fff" stroke="#FF0000" stroke-width="1.5"/>
<polygon points="228.61,869.51 234.07,872.66 234.07,878.96 228.61,882.11 223.16,878.96 223.16,872.66" fill="#fff" stroke="#FF0000" stroke-width="1.5"/>
<polygon points="268.35,862.01 273.80,865.16 273.80,871.46 268.35,874.61 262.89,871.46 262.89,865.16" fill="#fff" stroke="#FF0000" stroke-width="1.5"/>
<polygon points="309.69,853.44 315.14,856.59 315.14,862.89 309.69,866.04 304.23,862.89 304.23,856.59" fill="#fff" stroke="#FF0000" stroke-width="1.5"/>
<polygon points="333.90,847.55 339.36,850.70 339.36,857.00 333.90,860.15 328.45,857.00 328.45,850.70" fill="#fff" stroke="#FF0000" stroke-width="1.5"/>
<polygon points="354.34,842.73 359.79,845.88 359.79,852.18 354.34,855.33 348.88,852.18 348.88,845.88" fill="#fff" stroke="#FF0000" stroke-width="1.5"/>
<polygon points="384.04,833.09 389.50,836.24 389.50,842.54 384.04,845.69 378.59,842.54 378.59,836.24" fill="#fff" stroke="#FF0000" stroke-width="1.5"/>
<polygon points="419.23,821.31 424.69,824.46 424.69,830.76 419.23,833.91 413.78,830.76 413.78,824.46" fill="#fff" stroke="#FF0000" stroke-width="1.5"/>
</g>
<path d="M125.50,1195.5V1185.0M220.10,1195.5V1185.0M314.70,1195.5V1185.0M409.30,1195.5V1185.0M503.90,1195.5V1185.0M598.50,1195.5V1185.0M693.10,1195.5V1185.0M787.70,1195.5V1185.0M172.80,1195.5V1189.5M267.40,1195.5V1189.5M362.00,1195.5V1189.5M456.60,1195.5V1189.5M551.20,1195.5V1189.5M645.80,1195.5V1189.5M740.40,1195.5V1189.5M125.50,660.2V670.7M220.10,660.2V670.7M314.70,660.2V670.7M409.30,660.2V670.7M503.90,660.2V670.7M598.50,660.2V670.7M693.10,660.2V670.7M787.70,660.2V670.7M172.80,660.2V666.2M267.40,660.2V666.2M362.00,660.2V666.2M456.60,660.2V666.2M551.20,660.2V666.2M645.80,660.2V666.2M740.40,660.2V666.2M102.8,1195.40H113.3M102.8,1106.20H113.3M102.8,1017.00H113.3M102.8,927.80H113.3M102.8,838.60H113.3M102.8,749.40H113.3M102.8,660.20H113.3M102.8,1150.80H108.8M102.8,1061.60H108.8M102.8,972.40H108.8M102.8,883.20H108.8M102.8,794.00H108.8M102.8,704.80H108.8M811.8,1195.50H801.3M811.8,1088.40H801.3M811.8,981.30H801.3M811.8,874.20H801.3M811.8,767.10H801.3M811.8,660.00H801.3M811.8,1141.95H805.8M811.8,1034.85H805.8M811.8,927.75H805.8M811.8,820.65H805.8M811.8,713.55H805.8" stroke="#000" stroke-width="2" fill="none"/>
<rect x="102.8" y="660.2" width="709.00" height="535.30" stroke="#000" stroke-width="2" fill="none"/>
<text x="92.4" y="521.10" text-anchor="end" font-size="20.0">0.4</text>
<text x="92.4" y="438.70" text-anchor="end" font-size="20.0">0.5</text>
<text x="92.4" y="356.30" text-anchor="end" font-size="20.0">0.6</text>
<text x="92.4" y="273.90" text-anchor="end" font-size="20.0">0.7</text>
<text x="92.4" y="191.50" text-anchor="end" font-size="20.0">0.8</text>
<text x="92.4" y="109.10" text-anchor="end" font-size="20.0">0.9</text>
<text x="92.4" y="26.70" text-anchor="end" font-size="20.0">1.0</text>
<text x="103.40" y="583.2" text-anchor="middle" font-size="20.6">0.0</text>
<text x="198.00" y="583.2" text-anchor="middle" font-size="20.6">0.1</text>
<text x="292.60" y="583.2" text-anchor="middle" font-size="20.6">0.2</text>
<text x="387.20" y="583.2" text-anchor="middle" font-size="20.6">0.3</text>
<text x="481.80" y="583.2" text-anchor="middle" font-size="20.6">0.4</text>
<text x="576.40" y="583.2" text-anchor="middle" font-size="20.6">0.5</text>
<text x="671.00" y="583.2" text-anchor="middle" font-size="20.6">0.6</text>
<text x="765.60" y="583.2" text-anchor="middle" font-size="20.6">0.7</text>
<text x="822.5" y="536.08" font-size="20.0">0.2</text>
<text x="822.5" y="472.42" font-size="20.0">0.3</text>
<text x="822.5" y="408.76" font-size="20.0">0.4</text>
<text x="822.5" y="345.10" font-size="20.0">0.5</text>
<text x="822.5" y="281.44" font-size="20.0">0.6</text>
<text x="822.5" y="217.78" font-size="20.0">0.7</text>
<text x="822.5" y="154.12" font-size="20.0">0.8</text>
<text x="822.5" y="90.46" font-size="20.0">0.9</text>
<text x="822.5" y="26.80" font-size="20.0">1.0</text>
<text transform="translate(52.6,305.1) rotate(-90)" text-anchor="middle" font-size="24.8">Cell Voltage (V)</text>
<text x="456.75" y="625.5" text-anchor="middle" font-size="24.6">Current Density (A cm<tspan dy="-13" font-size="13.5">-2</tspan><tspan dy="13">)</tspan></text>
<text transform="translate(885,307.5) rotate(-90)" text-anchor="middle" font-size="24.4">Resistance (Ohm cm<tspan dy="-13" font-size="13">2</tspan><tspan dy="13">)</tspan></text>
<text x="92.4" y="1202.10" text-anchor="end" font-size="27.3">0.0</text>
<text x="92.4" y="1112.90" text-anchor="end" font-size="27.3">0.5</text>
<text x="92.4" y="1023.70" text-anchor="end" font-size="27.3">1.0</text>
<text x="92.4" y="934.50" text-anchor="end" font-size="27.3">1.5</text>
<text x="92.4" y="845.30" text-anchor="end" font-size="27.3">2.0</text>
<text x="92.4" y="756.10" text-anchor="end" font-size="27.3">2.5</text>
<text x="92.4" y="666.90" text-anchor="end" font-size="27.3">3.0</text>
<text transform="translate(124.60,1227) scale(0.93,1)" text-anchor="middle" font-size="26.5">0.0</text>
<text transform="translate(219.54,1227) scale(0.93,1)" text-anchor="middle" font-size="26.5">0.1</text>
<text transform="translate(314.47,1227) scale(0.93,1)" text-anchor="middle" font-size="26.5">0.2</text>
<text transform="translate(409.41,1227) scale(0.93,1)" text-anchor="middle" font-size="26.5">0.3</text>
<text transform="translate(504.34,1227) scale(0.93,1)" text-anchor="middle" font-size="26.5">0.4</text>
<text transform="translate(599.28,1227) scale(0.93,1)" text-anchor="middle" font-size="26.5">0.5</text>
<text transform="translate(694.21,1227) scale(0.93,1)" text-anchor="middle" font-size="26.5">0.6</text>
<text transform="translate(789.15,1227) scale(0.93,1)" text-anchor="middle" font-size="26.5">0.7</text>
<text x="822.5" y="1202.30" font-size="27.3">0</text>
<text x="822.5" y="1095.20" font-size="27.3">20</text>
<text x="822.5" y="988.10" font-size="27.3">40</text>
<text x="822.5" y="881.00" font-size="27.3">60</text>
<text x="822.5" y="773.90" font-size="27.3">80</text>
<text x="822.5" y="666.80" font-size="27.3">100</text>
<text transform="translate(45.3,944.5) rotate(-90)" text-anchor="middle" font-size="26.7">Power (W)</text>
<text x="451.9" y="1273.2" text-anchor="middle" font-size="27.0">Current Density (A cm<tspan dy="-14.7" font-size="14">-2</tspan><tspan dy="14.7">)</tspan></text>
<text transform="translate(898.3,946.4) rotate(-90)" text-anchor="middle" font-size="27.2">Cell Temperature (°C)</text>
<text x="1.8" y="31.9" style="font-family:Liberation Serif, serif" font-size="38.5">(a)</text>
<text x="0.2" y="655.0" style="font-family:Liberation Serif, serif" font-size="38">(b)</text>
<path d="M623.8,64.90H684.4" stroke="#800080" stroke-width="1.65"/>
<rect x="648.06" y="58.96" width="11.88" height="11.88" fill="#800080"/>
<text x="721.7" y="74.00" text-anchor="end" font-size="26">5</text>
<circle cx="726.0" cy="62.00" r="2.9" fill="none" stroke="#000" stroke-width="1.15"/>
<text transform="translate(729.2,74.20) scale(1.1,1)" font-size="27.2">C</text>
<path d="M623.8,97.90H684.4" stroke="#000080" stroke-width="1.65"/>
<circle cx="654.00" cy="97.90" r="6.80" fill="#000080"/>
<text x="721.7" y="107.00" text-anchor="end" font-size="26">15</text>
<circle cx="726.0" cy="95.00" r="2.9" fill="none" stroke="#000" stroke-width="1.15"/>
<text transform="translate(729.2,107.20) scale(1.1,1)" font-size="27.2">C</text>
<path d="M623.8,130.90H684.4" stroke="#0000FF" stroke-width="1.65"/>
<polygon points="654.00,123.88 661.88,137.92 646.12,137.92" fill="#0000FF"/>
<text x="721.7" y="140.00" text-anchor="end" font-size="26">25</text>
<circle cx="726.0" cy="128.00" r="2.9" fill="none" stroke="#000" stroke-width="1.15"/>
<text transform="translate(729.2,140.20) scale(1.1,1)" font-size="27.2">C</text>
<path d="M623.8,163.90H684.4" stroke="#008000" stroke-width="1.65"/>
<polygon points="654.00,156.02 661.88,163.90 654.00,171.78 646.12,163.90" fill="#008000"/>
<text x="721.7" y="173.00" text-anchor="end" font-size="26">35</text>
<circle cx="726.0" cy="161.00" r="2.9" fill="none" stroke="#000" stroke-width="1.15"/>
<text transform="translate(729.2,173.20) scale(1.1,1)" font-size="27.2">C</text>
<path d="M623.8,196.90H684.4" stroke="#FF8000" stroke-width="1.65"/>
<polygon points="661.02,196.90 646.98,204.78 646.98,189.02" fill="#FF8000"/>
<text x="721.7" y="206.00" text-anchor="end" font-size="26">45</text>
<circle cx="726.0" cy="194.00" r="2.9" fill="none" stroke="#000" stroke-width="1.15"/>
<text transform="translate(729.2,206.20) scale(1.1,1)" font-size="27.2">C</text>
<path d="M623.8,229.90H684.4" stroke="#FF0000" stroke-width="1.65"/>
<polygon points="654.00,222.34 660.55,226.12 660.55,233.68 654.00,237.46 647.45,233.68 647.45,226.12" fill="#FF0000"/>
<text x="721.7" y="239.00" text-anchor="end" font-size="26">55</text>
<circle cx="726.0" cy="227.00" r="2.9" fill="none" stroke="#000" stroke-width="1.15"/>
<text transform="translate(729.2,239.20) scale(1.1,1)" font-size="27.2">C</text>
<polygon points="146.50,147.70 158.50,136.10 158.50,141.90 256.00,141.90 256.00,153.50 158.50,153.50 158.50,159.30" fill="#000"/>
<polygon points="459.40,742.50 470.80,730.90 470.80,737.00 567.80,737.00 567.80,748.00 470.80,748.00 470.80,754.10" fill="#000"/>
<polygon points="747.00,430.50 735.40,419.00 735.40,425.30 669.00,425.30 669.00,435.70 735.40,435.70 735.40,442.00" fill="#fff" stroke="#000" stroke-width="1.8" stroke-linejoin="miter"/>
<polygon points="755.30,1067.70 744.10,1055.90 744.10,1062.00 678.50,1062.00 678.50,1073.40 744.10,1073.40 744.10,1079.50" fill="#fff" stroke="#000" stroke-width="1.8" stroke-linejoin="miter"/>
</svg>
</body></html>
